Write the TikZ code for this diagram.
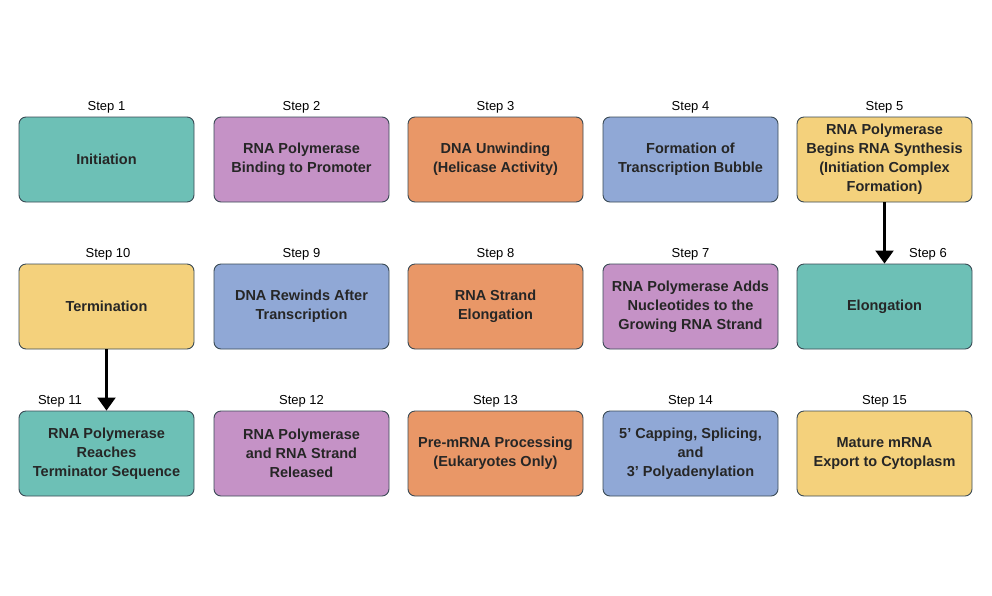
\documentclass[tikz,border=0pt]{standalone}
\usepackage{fontspec}
\setmainfont{Liberation Sans}
\usetikzlibrary{arrows.meta}
\definecolor{cteal}{HTML}{6DC0B6}
\definecolor{cpurp}{HTML}{C592C6}
\definecolor{corng}{HTML}{E99767}
\definecolor{cblue}{HTML}{90A8D6}
\definecolor{cyell}{HTML}{F4D17C}
\definecolor{cbord}{HTML}{3A4A55}
\begin{document}
\begin{tikzpicture}[x=1pt,y=-1pt,
 box/.style={draw=cbord,line width=0.9pt,rounded corners=7pt,minimum width=175pt,minimum height=85pt,align=center,font=\fontsize{14.5}{19}\selectfont\bfseries,text=black!85,inner sep=1pt},
 lab/.style={font=\fontsize{13}{15}\selectfont,text=black},
 harr/.style={draw=none,-{Triangle[length=19pt,width=21pt]},shorten <=-0.5pt,shorten >=-0.5pt},
 varr/.style={line width=2.2pt,-{Triangle[length=13pt,width=18pt]}}]
\useasboundingbox (0,0) rectangle (992,595);
\fill[white] (0,0) rectangle (992,595);
% row 1
\node[box,fill=cteal] (s1) at (106.5,159.5) {Initiation};
\node[box,fill=cpurp] (s2) at (301.5,159.5) {RNA Polymerase\\Binding to Promoter};
\node[box,fill=corng] (s3) at (495.5,159.5) {DNA Unwinding\\(Helicase Activity)};
\node[box,fill=cblue] (s4) at (690.5,159.5) {Formation of\\Transcription Bubble};
\node[box,fill=cyell] (s5) at (884.5,159.5) {RNA Polymerase\\Begins RNA Synthesis\\(Initiation Complex\\Formation)};
% row 2
\node[box,fill=cyell] (s10) at (106.5,306.5) {Termination};
\node[box,fill=cblue] (s9) at (301.5,306.5) {DNA Rewinds After\\Transcription};
\node[box,fill=corng] (s8) at (495.5,306.5) {RNA Strand\\Elongation};
\node[box,fill=cpurp] (s7) at (690.5,306.5) {RNA Polymerase Adds\\Nucleotides to the\\Growing RNA Strand};
\node[box,fill=cteal] (s6) at (884.5,306.5) {Elongation};
% row 3
\node[box,fill=cteal] (s11) at (106.5,453.5) {RNA Polymerase\\Reaches\\Terminator Sequence};
\node[box,fill=cpurp] (s12) at (301.5,453.5) {RNA Polymerase\\and RNA Strand\\Released};
\node[box,fill=corng] (s13) at (495.5,453.5) {Pre-mRNA Processing\\(Eukaryotes Only)};
\node[box,fill=cblue] (s14) at (690.5,453.5) {5' Capping, Splicing,\\and\\3' Polyadenylation};
\node[box,fill=cyell] (s15) at (884.5,453.5) {Mature mRNA\\Export to Cytoplasm};
% labels
\node[lab] (l1) at (106.5,107) {Step 1};
\node[lab] (l2) at (301.5,107) {Step 2};
\node[lab] (l3) at (495.5,107) {Step 3};
\node[lab] (l4) at (690.5,107) {Step 4};
\node[lab] (l5) at (884.5,107) {Step 5};
\node[lab] (l6) at (928,254) {Step 6};
\node[lab] (l7) at (690.5,254) {Step 7};
\node[lab] (l8) at (495.5,254) {Step 8};
\node[lab] (l9) at (301.5,254) {Step 9};
\node[lab] (l10) at (108,254) {Step 10};
\node[lab] (l11) at (60,401) {Step 11};
\node[lab] (l12) at (301.5,401) {Step 12};
\node[lab] (l13) at (495.5,401) {Step 13};
\node[lab] (l14) at (690.5,401) {Step 14};
\node[lab] (l15) at (884.5,401) {Step 15};
% arrows
\path[harr] (s1) -- (s2);
\path[harr] (s2) -- (s3);
\path[harr] (s3) -- (s4);
\path[harr] (s4) -- (s5);
\path[harr] (s6) -- (s7);
\path[harr] (s7) -- (s8);
\path[harr] (s8) -- (s9);
\path[harr] (s9) -- (s10);
\path[harr] (s11) -- (s12);
\path[harr] (s12) -- (s13);
\path[harr] (s13) -- (s14);
\path[harr] (s14) -- (s15);
\draw[varr] (s5) -- (s6);
\draw[varr] (s10) -- (s11);
\end{tikzpicture}
\end{document}
